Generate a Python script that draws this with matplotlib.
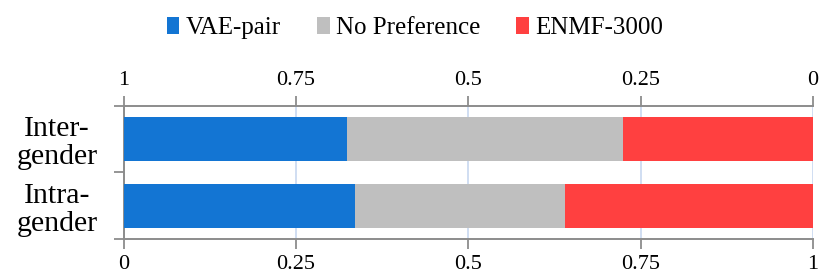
import matplotlib
matplotlib.use("Agg")
import matplotlib.pyplot as plt
import numpy as np

categories = ["Inter-\ngender", "Intra-\ngender"]
series_names = ["VAE-pair", "No Preference", "ENMF-3000"]
vae_pair = [0.324, 0.336]
no_pref = [0.400, 0.304]
enmf = [0.276, 0.360]
bottom_ticks = [0, 0.25, 0.5, 0.75, 1]
bottom_labels = ["0", "0.25", "0.5", "0.75", "1"]
top_labels = ["1", "0.75", "0.5", "0.25", "0"]

colors = ["#1375D3", "#BFBFBF", "#FF4040"]
axis_gray = "#8C8C8C"
grid_blue = "#C8D8F0"

plt.rcParams['font.family'] = ['Liberation Serif', 'DejaVu Serif']

fig = plt.figure(figsize=(8.3, 2.8), dpi=100)
ax = fig.add_axes([0.149, 0.1454, 0.8305, 0.4771])

y = np.arange(len(categories))
left = np.zeros(len(categories))
handles = []
for name, vals, c in zip(series_names, [vae_pair, no_pref, enmf], colors):
    h = ax.barh(y, vals, left=left, height=0.666, color=c, label=name, zorder=3)
    handles.append(h)
    left = left + np.array(vals)

ax.set_xlim(0, 1)
ax.set_ylim(1.5, -0.5)
ax.set_xticks(bottom_ticks)
ax.set_xticklabels(bottom_labels, fontsize=16)
ax.xaxis.grid(True, color=grid_blue, linewidth=1.2, zorder=0)
ax.set_axisbelow(True)

ax.set_yticks([-0.5, 0.5, 1.5])
ax.set_yticklabels(["", "", ""])
ax.set_yticks(y, minor=True)
ax.set_yticklabels(categories, minor=True, fontsize=21.5, linespacing=1.12, ha="center")
ax.tick_params(axis="y", which="minor", length=0, pad=48)
ax.tick_params(axis="y", which="major", length=7, width=1.3, color=axis_gray)
ax.tick_params(axis="x", length=7, width=1.3, color=axis_gray, pad=4)

for s in ["left", "bottom", "top"]:
    ax.spines[s].set_color(axis_gray)
    ax.spines[s].set_linewidth(1.4)
ax.spines["right"].set_visible(False)

ax2 = ax.twiny()
ax2.set_xlim(1, 0)
ax2.set_xticks([1, 0.75, 0.5, 0.25, 0])
ax2.set_xticklabels(top_labels, fontsize=16)
ax2.tick_params(axis="x", length=7, width=1.3, color=axis_gray, pad=4)
for s in ["left", "bottom", "top", "right"]:
    ax2.spines[s].set_visible(False)

leg = fig.legend(handles=handles, labels=series_names, loc="center", bbox_to_anchor=(0.5, 0.9),
                 ncol=3, frameon=False, fontsize=18, handlelength=0.5, handleheight=0.65,
                 handletextpad=0.25, columnspacing=1.45, borderpad=0)

fig.savefig("out.png", dpi=100)
